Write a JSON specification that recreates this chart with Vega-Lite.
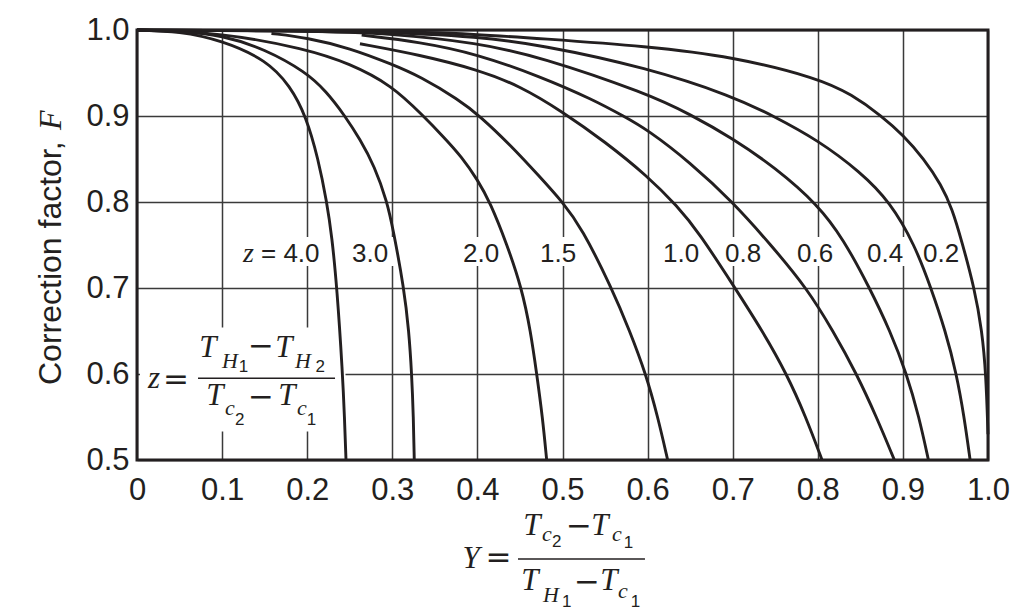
{
  "$schema": "https://vega.github.io/schema/vega-lite/v6.json",
  "width": 851,
  "height": 430,
  "autosize": {"type": "none"},
  "padding": {"left": 137, "top": 30, "right": 36, "bottom": 155},
  "background": "#ffffff",
  "config": {"view": {"stroke": null}},
  "datasets": {
    "curves": [
      {"z": "4.0", "x": 0, "y": 1}, {"z": "4.0", "x": 0.05, "y": 0.9985}, {"z": "4.0", "x": 0.1, "y": 0.988}, {"z": "4.0", "x": 0.1524, "y": 0.965}, {"z": "4.0", "x": 0.18, "y": 0.935}, {"z": "4.0", "x": 0.1986, "y": 0.9}, {"z": "4.0", "x": 0.213, "y": 0.85}, {"z": "4.0", "x": 0.223, "y": 0.8}, {"z": "4.0", "x": 0.229, "y": 0.76}, {"z": "4.0", "x": 0.235, "y": 0.7}, {"z": "4.0", "x": 0.2416, "y": 0.6}, {"z": "4.0", "x": 0.2438, "y": 0.55}, {"z": "4.0", "x": 0.2456, "y": 0.5},
      {"z": "3.0", "x": 0, "y": 1}, {"z": "3.0", "x": 0.05, "y": 0.999}, {"z": "3.0", "x": 0.1, "y": 0.994}, {"z": "3.0", "x": 0.15, "y": 0.978}, {"z": "3.0", "x": 0.1986, "y": 0.951}, {"z": "3.0", "x": 0.222, "y": 0.929}, {"z": "3.0", "x": 0.2445, "y": 0.9}, {"z": "3.0", "x": 0.262, "y": 0.873}, {"z": "3.0", "x": 0.279, "y": 0.842}, {"z": "3.0", "x": 0.294, "y": 0.8}, {"z": "3.0", "x": 0.301, "y": 0.768}, {"z": "3.0", "x": 0.3137, "y": 0.7}, {"z": "3.0", "x": 0.3195, "y": 0.65}, {"z": "3.0", "x": 0.3228, "y": 0.6}, {"z": "3.0", "x": 0.3248, "y": 0.55}, {"z": "3.0", "x": 0.3258, "y": 0.5},
      {"z": "2.0", "x": 0, "y": 1}, {"z": "2.0", "x": 0.1, "y": 0.997}, {"z": "2.0", "x": 0.1986, "y": 0.978}, {"z": "2.0", "x": 0.25, "y": 0.961}, {"z": "2.0", "x": 0.299, "y": 0.936}, {"z": "2.0", "x": 0.3365, "y": 0.9}, {"z": "2.0", "x": 0.36, "y": 0.876}, {"z": "2.0", "x": 0.382, "y": 0.852}, {"z": "2.0", "x": 0.4, "y": 0.826}, {"z": "2.0", "x": 0.4148, "y": 0.8}, {"z": "2.0", "x": 0.435, "y": 0.75}, {"z": "2.0", "x": 0.452, "y": 0.7}, {"z": "2.0", "x": 0.4625, "y": 0.65}, {"z": "2.0", "x": 0.4697, "y": 0.6}, {"z": "2.0", "x": 0.4765, "y": 0.55}, {"z": "2.0", "x": 0.4814, "y": 0.5},
      {"z": "1.5", "x": 0.158, "y": 0.996}, {"z": "1.5", "x": 0.2, "y": 0.991}, {"z": "1.5", "x": 0.25, "y": 0.979}, {"z": "1.5", "x": 0.3, "y": 0.96}, {"z": "1.5", "x": 0.3326, "y": 0.946}, {"z": "1.5", "x": 0.378, "y": 0.919}, {"z": "1.5", "x": 0.403, "y": 0.9}, {"z": "1.5", "x": 0.44, "y": 0.865}, {"z": "1.5", "x": 0.4736, "y": 0.829}, {"z": "1.5", "x": 0.5, "y": 0.8}, {"z": "1.5", "x": 0.5225, "y": 0.77}, {"z": "1.5", "x": 0.5578, "y": 0.7}, {"z": "1.5", "x": 0.579, "y": 0.65}, {"z": "1.5", "x": 0.598, "y": 0.6}, {"z": "1.5", "x": 0.612, "y": 0.55}, {"z": "1.5", "x": 0.6236, "y": 0.5},
      {"z": "1.0", "x": 0.262, "y": 0.984}, {"z": "1.0", "x": 0.3326, "y": 0.971}, {"z": "1.0", "x": 0.4, "y": 0.954}, {"z": "1.0", "x": 0.45, "y": 0.935}, {"z": "1.0", "x": 0.5, "y": 0.905}, {"z": "1.0", "x": 0.55, "y": 0.87}, {"z": "1.0", "x": 0.6, "y": 0.83}, {"z": "1.0", "x": 0.635, "y": 0.795}, {"z": "1.0", "x": 0.66, "y": 0.765}, {"z": "1.0", "x": 0.7027, "y": 0.7}, {"z": "1.0", "x": 0.735, "y": 0.65}, {"z": "1.0", "x": 0.7635, "y": 0.6}, {"z": "1.0", "x": 0.786, "y": 0.55}, {"z": "1.0", "x": 0.805, "y": 0.5},
      {"z": "0.8", "x": 0.264, "y": 0.994}, {"z": "0.8", "x": 0.3326, "y": 0.986}, {"z": "0.8", "x": 0.4, "y": 0.972}, {"z": "0.8", "x": 0.4736, "y": 0.946}, {"z": "0.8", "x": 0.536, "y": 0.919}, {"z": "0.8", "x": 0.5714, "y": 0.9}, {"z": "0.8", "x": 0.6, "y": 0.884}, {"z": "0.8", "x": 0.65, "y": 0.846}, {"z": "0.8", "x": 0.7, "y": 0.8}, {"z": "0.8", "x": 0.745, "y": 0.75}, {"z": "0.8", "x": 0.787, "y": 0.7}, {"z": "0.8", "x": 0.818, "y": 0.65}, {"z": "0.8", "x": 0.8457, "y": 0.6}, {"z": "0.8", "x": 0.869, "y": 0.55}, {"z": "0.8", "x": 0.89, "y": 0.5},
      {"z": "0.6", "x": 0, "y": 1}, {"z": "0.6", "x": 0.2, "y": 0.999}, {"z": "0.6", "x": 0.3, "y": 0.996}, {"z": "0.6", "x": 0.4, "y": 0.985}, {"z": "0.6", "x": 0.4736, "y": 0.969}, {"z": "0.6", "x": 0.6, "y": 0.926}, {"z": "0.6", "x": 0.65, "y": 0.902}, {"z": "0.6", "x": 0.7, "y": 0.874}, {"z": "0.6", "x": 0.75, "y": 0.84}, {"z": "0.6", "x": 0.8, "y": 0.797}, {"z": "0.6", "x": 0.83, "y": 0.757}, {"z": "0.6", "x": 0.861, "y": 0.7}, {"z": "0.6", "x": 0.885, "y": 0.65}, {"z": "0.6", "x": 0.9045, "y": 0.6}, {"z": "0.6", "x": 0.919, "y": 0.55}, {"z": "0.6", "x": 0.93, "y": 0.5},
      {"z": "0.4", "x": 0, "y": 1}, {"z": "0.4", "x": 0.3, "y": 0.998}, {"z": "0.4", "x": 0.4, "y": 0.992}, {"z": "0.4", "x": 0.4736, "y": 0.983}, {"z": "0.4", "x": 0.6, "y": 0.956}, {"z": "0.4", "x": 0.7, "y": 0.923}, {"z": "0.4", "x": 0.748, "y": 0.9}, {"z": "0.4", "x": 0.8, "y": 0.872}, {"z": "0.4", "x": 0.85, "y": 0.835}, {"z": "0.4", "x": 0.885, "y": 0.8}, {"z": "0.4", "x": 0.914, "y": 0.75}, {"z": "0.4", "x": 0.933, "y": 0.7}, {"z": "0.4", "x": 0.95, "y": 0.65}, {"z": "0.4", "x": 0.963, "y": 0.6}, {"z": "0.4", "x": 0.972, "y": 0.55}, {"z": "0.4", "x": 0.979, "y": 0.5},
      {"z": "0.2", "x": 0, "y": 1}, {"z": "0.2", "x": 0.3, "y": 0.999}, {"z": "0.2", "x": 0.4, "y": 0.995}, {"z": "0.2", "x": 0.4736, "y": 0.99}, {"z": "0.2", "x": 0.6, "y": 0.981}, {"z": "0.2", "x": 0.7, "y": 0.969}, {"z": "0.2", "x": 0.8006, "y": 0.944}, {"z": "0.2", "x": 0.84, "y": 0.925}, {"z": "0.2", "x": 0.875, "y": 0.9}, {"z": "0.2", "x": 0.9, "y": 0.878}, {"z": "0.2", "x": 0.925, "y": 0.85}, {"z": "0.2", "x": 0.945, "y": 0.82}, {"z": "0.2", "x": 0.958, "y": 0.792}, {"z": "0.2", "x": 0.969, "y": 0.755}, {"z": "0.2", "x": 0.984, "y": 0.7}, {"z": "0.2", "x": 0.993, "y": 0.65}, {"z": "0.2", "x": 0.9976, "y": 0.6}, {"z": "0.2", "x": 1.0, "y": 0.53}
    ],
    "boxes": [
      {"x": 0.121, "x2": 0.2232, "y": 0.7256, "y2": 0.7593},
      {"x": 0.249, "x2": 0.303, "y": 0.7256, "y2": 0.7593},
      {"x": 0.3796, "x2": 0.43, "y": 0.7256, "y2": 0.7593},
      {"x": 0.47, "x2": 0.5217, "y": 0.7256, "y2": 0.7593},
      {"x": 0.6146, "x2": 0.665, "y": 0.7256, "y2": 0.7593},
      {"x": 0.6874, "x2": 0.738, "y": 0.7256, "y2": 0.7593},
      {"x": 0.772, "x2": 0.8214, "y": 0.7256, "y2": 0.7593},
      {"x": 0.8543, "x2": 0.9036, "y": 0.7256, "y2": 0.7593},
      {"x": 0.92, "x2": 0.9706, "y": 0.7256, "y2": 0.7593},
      {"x": 0.0035, "x2": 0.245, "y": 0.533, "y2": 0.654}
    ],
    "bars": [
      {"x": 0.0717, "x2": 0.2327, "y": 0.595},
      {"x": 0.4477, "x2": 0.5969, "y": 0.3849}
    ],
    "frame": [{"x": 0, "x2": 1, "y": 0.5, "y2": 1}],
    "labels": [
      {"x": 0.1457, "y": 0.7306, "t": "= 4.0"},
      {"x": 0.2526, "y": 0.7306, "t": "3.0"},
      {"x": 0.3831, "y": 0.7306, "t": "2.0"},
      {"x": 0.4736, "y": 0.7306, "t": "1.5"},
      {"x": 0.6181, "y": 0.7306, "t": "1.0"},
      {"x": 0.691, "y": 0.7306, "t": "0.8"},
      {"x": 0.7756, "y": 0.7306, "t": "0.6"},
      {"x": 0.8578, "y": 0.7306, "t": "0.4"},
      {"x": 0.9236, "y": 0.7306, "t": "0.2"}
    ],
    "zlabel": [{"x": 0.1246, "y": 0.7306, "t": "z"}],
    "subs": [
      {"x": 0.1195, "y": 0.6023, "t": "1"}, {"x": 0.2097, "y": 0.6023, "t": "2"},
      {"x": 0.1152, "y": 0.5407, "t": "2"}, {"x": 0.1994, "y": 0.5407, "t": "1"},
      {"x": 0.4877, "y": 0.3988, "t": "2"}, {"x": 0.5719, "y": 0.3977, "t": "1"},
      {"x": 0.4994, "y": 0.3291, "t": "1"}, {"x": 0.5802, "y": 0.3291, "t": "1"}
    ],
    "serifBig": [
      {"x": 0.0129, "y": 0.5837, "t": "z"},
      {"x": 0.0732, "y": 0.6201, "t": "T"}, {"x": 0.1625, "y": 0.6201, "t": "T"},
      {"x": 0.0814, "y": 0.564, "t": "T"}, {"x": 0.166, "y": 0.564, "t": "T"},
      {"x": 0.3824, "y": 0.3744, "t": "Y"},
      {"x": 0.4539, "y": 0.4128, "t": "T"}, {"x": 0.5338, "y": 0.4128, "t": "T"},
      {"x": 0.4516, "y": 0.3488, "t": "T"}, {"x": 0.5444, "y": 0.3488, "t": "T"}
    ],
    "serifSub": [
      {"x": 0.0999, "y": 0.607, "t": "H"}, {"x": 0.1857, "y": 0.607, "t": "H"},
      {"x": 0.1034, "y": 0.5523, "t": "c"}, {"x": 0.188, "y": 0.5523, "t": "c"},
      {"x": 0.4759, "y": 0.4058, "t": "c"}, {"x": 0.5582, "y": 0.4058, "t": "c"},
      {"x": 0.4771, "y": 0.3349, "t": "H"}, {"x": 0.5652, "y": 0.3395, "t": "c"}
    ],
    "sym": [
      {"x": 0.0458, "y": 0.593, "t": "="}, {"x": 0.1457, "y": 0.6314, "t": "−"}, {"x": 0.1457, "y": 0.5721, "t": "−"},
      {"x": 0.4248, "y": 0.386, "t": "="}, {"x": 0.5194, "y": 0.4221, "t": "−"}, {"x": 0.5288, "y": 0.357, "t": "−"}
    ],
    "ytitle": [{"x": -0.0893, "y": 0.5872, "t": "Correction factor,"}],
    "ytitleF": [{"x": -0.0893, "y": 0.8837, "t": "F"}]
  },
  "encoding": {
    "x": {
      "field": "x", "type": "quantitative",
      "scale": {"domain": [0, 1], "nice": false, "zero": false},
      "axis": {
        "title": null, "values": [0, 0.1, 0.2, 0.3, 0.4, 0.5, 0.6, 0.7, 0.8, 0.9, 1],
        "labelExpr": "datum.value == 0 ? '0' : format(datum.value, '.1f')",
        "domain": false, "ticks": false, "grid": true, "gridColor": "#3a3a3a", "gridWidth": 1.5,
        "labelFont": "Liberation Sans", "labelFontSize": 31, "labelColor": "#231f20",
        "labelPadding": 15, "labelFlush": false, "labelOverlap": false
      }
    },
    "y": {
      "field": "y", "type": "quantitative",
      "scale": {"domain": [0.5, 1], "nice": false, "zero": false},
      "axis": {
        "title": null, "values": [0.5, 0.6, 0.7, 0.8, 0.9, 1],
        "format": ".1f",
        "domain": false, "ticks": false, "grid": true, "gridColor": "#3a3a3a", "gridWidth": 1.5,
        "labelFont": "Liberation Sans", "labelFontSize": 31, "labelColor": "#231f20",
        "labelPadding": 8, "labelFlush": false, "labelOverlap": false
      }
    }
  },
  "layer": [
    {
      "data": {"name": "boxes"},
      "mark": {"type": "rect", "fill": "#ffffff", "stroke": null},
      "encoding": {"x2": {"field": "x2"}, "y2": {"field": "y2"}}
    },
    {
      "data": {"name": "curves"},
      "mark": {"type": "line", "interpolate": "basis", "stroke": "#231f20", "strokeWidth": 2.9},
      "encoding": {"detail": {"field": "z", "type": "nominal"}}
    },
    {
      "data": {"name": "bars"},
      "mark": {"type": "rule", "stroke": "#231f20", "strokeWidth": 1.6},
      "encoding": {"x2": {"field": "x2"}}
    },
    {
      "data": {"name": "labels"},
      "mark": {"type": "text", "font": "Liberation Sans", "fontSize": 26, "align": "left", "baseline": "alphabetic", "color": "#231f20"},
      "encoding": {"text": {"field": "t"}}
    },
    {
      "data": {"name": "zlabel"},
      "mark": {"type": "text", "font": "Liberation Serif", "fontStyle": "italic", "fontSize": 28, "align": "left", "baseline": "alphabetic", "color": "#231f20"},
      "encoding": {"text": {"field": "t"}}
    },
    {
      "data": {"name": "subs"},
      "mark": {"type": "text", "font": "Liberation Sans", "fontSize": 17, "align": "left", "baseline": "alphabetic", "color": "#231f20"},
      "encoding": {"text": {"field": "t"}}
    },
    {
      "data": {"name": "serifBig"},
      "mark": {"type": "text", "font": "Liberation Serif", "fontStyle": "italic", "fontSize": 31, "align": "left", "baseline": "alphabetic", "color": "#231f20"},
      "encoding": {"text": {"field": "t"}}
    },
    {
      "data": {"name": "serifSub"},
      "mark": {"type": "text", "font": "Liberation Serif", "fontStyle": "italic", "fontSize": 22, "align": "left", "baseline": "alphabetic", "color": "#231f20"},
      "encoding": {"text": {"field": "t"}}
    },
    {
      "data": {"name": "sym"},
      "mark": {"type": "text", "font": "DejaVu Sans", "fontSize": 31, "align": "center", "baseline": "middle", "color": "#231f20"},
      "encoding": {"text": {"field": "t"}}
    },
    {
      "data": {"name": "ytitle"},
      "mark": {"type": "text", "font": "Liberation Sans", "fontSize": 32, "angle": 270, "align": "left", "baseline": "alphabetic", "color": "#231f20"},
      "encoding": {"text": {"field": "t"}}
    },
    {
      "data": {"name": "ytitleF"},
      "mark": {"type": "text", "font": "Liberation Serif", "fontStyle": "italic", "fontSize": 32, "angle": 270, "align": "left", "baseline": "alphabetic", "color": "#231f20"},
      "encoding": {"text": {"field": "t"}}
    },
    {
      "data": {"name": "frame"},
      "mark": {"type": "rect", "fill": "#ffffff", "fillOpacity": 0, "stroke": "#231f20", "strokeWidth": 3},
      "encoding": {"x2": {"field": "x2"}, "y2": {"field": "y2"}}
    }
  ]
}
